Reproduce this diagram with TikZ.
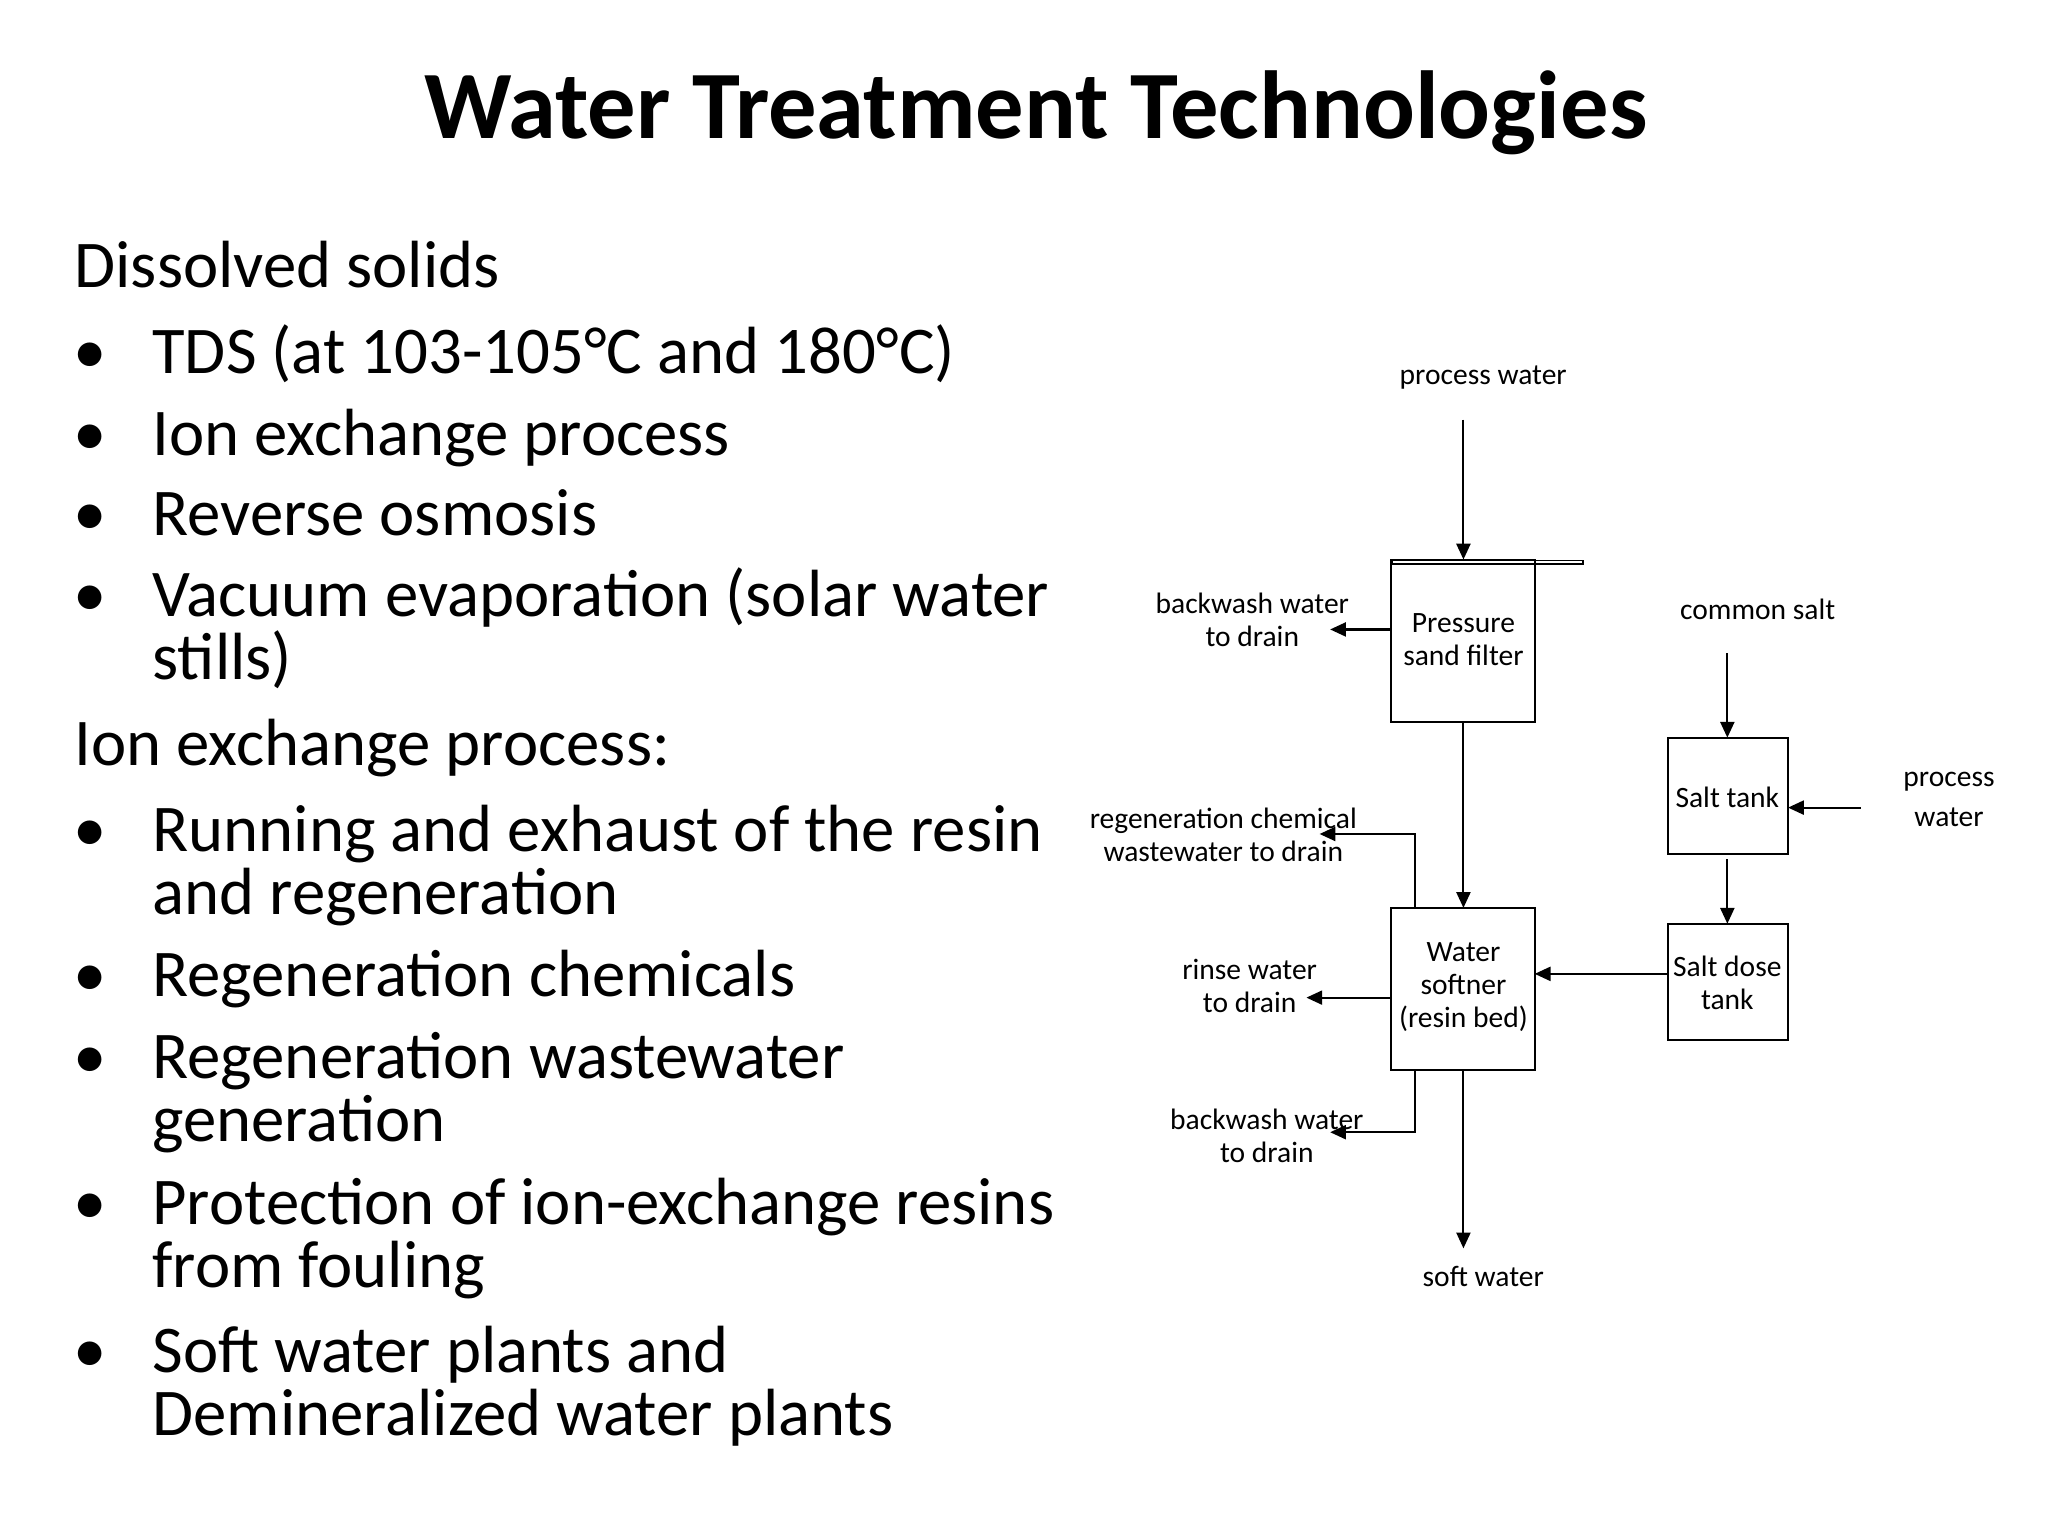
\documentclass[tikz,border=0pt]{standalone}
\usepackage{fontspec}
\setmainfont{Carlito}
\usetikzlibrary{arrows.meta}
\begin{document}
\begin{tikzpicture}[x=0.013196cm,y=-0.013196cm,
  box/.style={draw,line width=0.5pt,anchor=north west,inner sep=0pt},
  lab/.style={font=\fontsize{8.4}{9.4}\selectfont,align=center},
  arr/.style={-{Triangle[length=4.5pt,width=4pt]},line width=0.6pt},
  body/.style={font=\fontsize{19}{23}\selectfont,anchor=base west,inner sep=0pt},
  bul/.style={font=\fontsize{19}{23}\selectfont,anchor=base west,inner sep=0pt}]
\useasboundingbox (0,0) rectangle (1552,1164);
\node[font=\fontsize{27.5}{30}\selectfont\bfseries,anchor=base,inner sep=0pt] (title) at (785,105) {Water Treatment Technologies};
% left text
\node[body] (h1) at (56,218) {Dissolved solids};
\foreach \y/\t [count=\i] in {283/TDS (at 103-105°C and 180°C),345/Ion exchange process,406/Reverse osmosis,467/Vacuum evaporation (solar water}
  {\node[bul] (ba\i) at (55,\y) {•}; \node[body] (ta\i) at (115,\y) {\t};}
\node[body] (ta5) at (115,515) {stills)};
\node[body] (h2) at (56,580) {Ion exchange process:};
\foreach \y/\t [count=\i] in {645/Running and exhaust of the resin,755/Regeneration chemicals,817/Regeneration wastewater,928/Protection of ion-exchange resins,1040/Soft water plants and}
  {\node[bul] (bb\i) at (55,\y) {•}; \node[body] (tb\i) at (115,\y) {\t};}
\node[body] (c1) at (115,693) {and regeneration};
\node[body] (c2) at (115,865) {generation};
\node[body] (c3) at (115,976) {from fouling};
\node[body] (c4) at (115,1088) {Demineralized water plants};
% diagram
\node[box,minimum width=109\pgflinewidth] (psf) at (1054,424) {};
\draw[line width=0.5pt] (1054,424) rectangle (1163,547);
\coordinate (psfNW) at (1054,424);
\node[box,draw=none,minimum width=1.44cm,minimum height=1.623cm] (p) at (1054,424) {};
\node[lab] (pt) at (1109,485) {Pressure\\sand filter};
\node[box,draw=none,minimum width=1.201cm,minimum height=1.161cm] (st) at (1264,559) {};
\draw[line width=0.5pt] (1264,559) rectangle (1355,647);
\node[lab] (stt) at (1309,604) {Salt tank};
\node[box,draw=none,minimum width=1.44cm,minimum height=1.623cm] (ws) at (1054,688) {};
\draw[line width=0.5pt] (1054,688) rectangle (1163,811);
\node[lab] (wst) at (1109,748) {Water\\softner\\(resin bed)};
\node[box,draw=none,minimum width=1.201cm,minimum height=1.161cm] (sd) at (1264,700) {};
\draw[line width=0.5pt] (1264,700) rectangle (1355,788);
\node[lab] (sdt) at (1309,745) {Salt dose\\tank};
% labels
\node[lab] (pw) at (1124,286) {process water};
\node[lab] (bw1) at (949,470) {backwash water\\to drain};
\node[lab] (cs) at (1332,462) {common salt};
\node[lab,align=center] (pw2) at (1477,606) {process\\[2pt]water};
\node[lab] (rc) at (927,633) {regeneration chemical\\wastewater to drain};
\node[lab] (rw) at (947,747) {rinse water\\to drain};
\node[lab] (bw2) at (960,861) {backwash water\\to drain};
\node[lab] (sw) at (1124,967) {soft water};
% arrows
\coordinate (a1) at (1109,318);
\draw[arr] (a1) -- (1109,424);
\draw[arr] (1054,477) -- (1008,477);
\coordinate (a2) at (1309,495);
\draw[arr] (a2) -- (1309,559);
\coordinate (a3) at (1410,612);
\draw[arr] (a3) -- (1355,612);
\draw[arr] (1309,651) -- (1309,700);
\draw[arr] (1109,547) -- (1109,688);
\draw[arr] (1264,738) -- (1163,738);
\draw[arr] (1072,688) -- (1072,632) -- (1000,632);
\draw[arr] (1054,756) -- (990,756);
\draw[arr] (1072,811) -- (1072,858) -- (1008,858);
\coordinate (a4) at (1109,946);
\draw[arr] (1109,811) -- (a4);
\end{tikzpicture}
\end{document}
